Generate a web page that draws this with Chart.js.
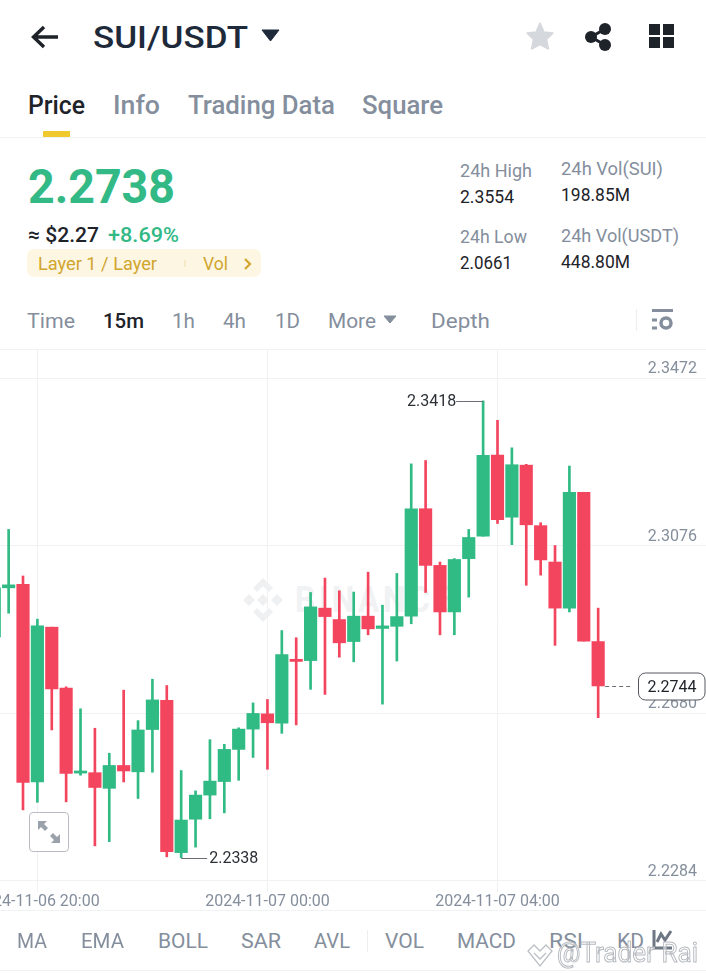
<!DOCTYPE html>
<html>
<head>
<meta charset="utf-8">
<title>SUI/USDT</title>
<script src="https://cdn.jsdelivr.net/npm/chart.js@4"></script>
<style>
html, body { margin: 0; padding: 0; background: #fff; }
body { position: relative; width: 706px; height: 973px; overflow: hidden; font-family: Roboto, "Noto Sans", sans-serif; }
.t { position: absolute; white-space: nowrap; line-height: 1; transform-origin: left center; transform: translateY(-50%); color: #848e9c; font-size: 21px; }
.d { color: #1e2329; }
.hr { position: absolute; left: 0; width: 706px; height: 1px; background: #f1f2f3; }
.vr { position: absolute; width: 1px; background: #eceef0; }
svg { position: absolute; overflow: visible; }
canvas { position: absolute; left: 0; top: 349px; }
#chip { position: absolute; left: 27px; top: 249px; width: 234px; height: 28px; background: #fdf6e3; border-radius: 7px; }
#expand { position: absolute; left: 29px; top: 812px; width: 38px; height: 38px; background: #fff; border: 1px solid #b9bdc3; border-radius: 4px; }
</style>
</head>
<body>

<!-- header -->
<svg style="left:0;top:0" width="706" height="140">
  <path d="M34 37H58M44 27L33.5 37L44 47" fill="none" stroke="#1e2329" stroke-width="3.4"/>
  <path d="M262 30H279L270.5 41Z" fill="#1e2a3a" stroke="#1e2a3a" stroke-width="1" stroke-linejoin="round"/>
  <path d="M540 23L544 32L553 33L546.5 39.500L548.500 49L540 44.500L531.500 49L533.500 39.500L527 33L536 32Z" fill="#d5d9de" stroke="#d5d9de" stroke-width="1.500" stroke-linejoin="round"/>
  <path d="M605 29L591 37L605 45" fill="none" stroke="#1e2329" stroke-width="3"/>
  <circle cx="591" cy="37" r="6" fill="#1e2329"/><circle cx="605" cy="29" r="6" fill="#1e2329"/><circle cx="605" cy="45" r="6" fill="#1e2329"/>
  <path d="M649 24h11v11h-11zM663 24h11v11h-11zM649 37h11v11h-11zM663 37h11v11h-11z" fill="#1e2329"/>
  <rect x="43" y="131" width="27" height="6" fill="#f0c92f"/>
</svg>
<span class="t" data-w="155" style="left:93px;top:37px;font-size:32px;font-weight:500;color:#1e2a3a">SUI/USDT</span>
<span class="t d" data-w="57" style="left:28px;top:105px;font-size:25px;font-weight:500">Price</span>
<span class="t" data-w="47" style="left:113px;top:105px;font-size:25px;font-weight:500">Info</span>
<span class="t" data-w="147" style="left:188px;top:105px;font-size:25px;font-weight:500">Trading Data</span>
<span class="t" data-w="81" style="left:362px;top:105px;font-size:25px;font-weight:500">Square</span>
<div class="hr" style="top:137px"></div>

<!-- price block -->
<span class="t" data-w="147" style="left:28px;top:186px;font-size:49px;font-weight:700;color:#32b986">2.2738</span>
<span class="t d" data-w="71" style="left:28px;top:235px;font-weight:500">≈ $2.27</span>
<span class="t" data-w="71" style="left:108px;top:235px;font-size:20px;font-weight:500;color:#32b986">+8.69%</span>
<div id="chip"></div>
<span class="t" data-w="119" style="left:38px;top:264px;font-size:18px;color:#d1a52e">Layer 1 / Layer</span>
<span class="t" data-w="25" style="left:203px;top:264px;font-size:18px;color:#d1a52e">Vol</span>
<svg style="left:0;top:0" width="300" height="290">
  <path d="M245 259L250 264L245 269" fill="none" stroke="#d1a52e" stroke-width="2.200"/>
  <path d="M185 260V267" stroke="#ecdcae" stroke-width="1"/>
</svg>
<span class="t" data-w="72" style="left:460px;top:171px;font-size:18px">24h High</span>
<span class="t d" data-w="54" style="left:460px;top:197px;font-size:18px">2.3554</span>
<span class="t" data-w="67" style="left:460px;top:237px;font-size:18px">24h Low</span>
<span class="t d" data-w="52" style="left:460px;top:263px;font-size:18px">2.0661</span>
<span class="t" data-w="102" style="left:561px;top:169px;font-size:18px">24h Vol(SUI)</span>
<span class="t d" data-w="69" style="left:561px;top:195px;font-size:18px">198.85M</span>
<span class="t" data-w="118" style="left:561px;top:236px;font-size:18px">24h Vol(USDT)</span>
<span class="t d" data-w="69" style="left:561px;top:262px;font-size:18px">448.80M</span>

<!-- interval bar -->
<span class="t" data-w="48" style="left:27px;top:321px">Time</span>
<span class="t d" data-w="41" style="left:103px;top:321px;font-weight:500">15m</span>
<span class="t" data-w="23" style="left:172px;top:321px">1h</span>
<span class="t" data-w="23" style="left:223px;top:321px">4h</span>
<span class="t" data-w="25" style="left:275px;top:321px">1D</span>
<span class="t" data-w="48" style="left:328px;top:321px">More</span>
<span class="t" data-w="59" style="left:431px;top:321px">Depth</span>
<div class="vr" style="left:636px;top:309px;height:22px"></div>
<svg style="left:0;top:290px" width="706" height="50">
  <path d="M384 26H396L390 33Z" fill="#848e9c" stroke="#848e9c" stroke-linejoin="round"/>
  <path d="M652 20.500H673M652 30H657M652 38H657" stroke="#848e9c" stroke-width="3" fill="none"/>
  <circle cx="666" cy="33" r="5" fill="none" stroke="#848e9c" stroke-width="3.500"/>
</svg>
<div class="hr" style="top:349px"></div>

<!-- watermark behind the candles -->
<svg style="left:241px;top:578px" width="44" height="44">
  <path d="M22 0L32 10L28 14L22 8L16 14L12 10ZM8 16L14 22L8 28L2 22ZM36 16L42 22L36 28L30 22ZM22 16L28 22L22 28L16 22ZM12 34L16 30L22 36L28 30L32 34L22 44Z" fill="#eff0f2"/>
</svg>
<span class="t" data-w="160" style="left:295px;top:600px;font-size:36px;font-weight:700;color:#f1f2f4;letter-spacing:4px">BINANCE</span>

<canvas id="kline" width="706" height="563"></canvas>

<div id="expand">
  <svg style="left:0;top:0" width="38" height="38">
    <path d="M8 8H17L14 11L18 15L15 18L11 14L8 17ZM30 30H21L24 27L20 23L23 20L27 24L30 21Z" fill="#9aa1ab"/>
  </svg>
</div>

<!-- indicator bar -->
<div class="hr" style="top:910px"></div>
<span class="t" data-w="30" style="left:17px;top:941px">MA</span>
<span class="t" data-w="43" style="left:81px;top:941px">EMA</span>
<span class="t" data-w="50" style="left:158px;top:941px">BOLL</span>
<span class="t" data-w="40" style="left:241px;top:941px">SAR</span>
<span class="t" data-w="36" style="left:314px;top:941px">AVL</span>
<div class="vr" style="left:367px;top:930px;height:22px"></div>
<span class="t" data-w="39" style="left:385px;top:941px">VOL</span>
<span class="t" data-w="59" style="left:457px;top:941px">MACD</span>
<span class="t" data-w="34" style="left:549px;top:941px">RSI</span>
<span class="t" data-w="27" style="left:617px;top:941px">KD</span>
<svg style="left:0;top:920px" width="706" height="50">
  <path d="M654 10V28H672M657 22L661 14L665 20L671 11" fill="none" stroke="#6f7784" stroke-width="3"/>
</svg>
<div class="hr" style="top:970px"></div>

<!-- uploader mark -->
<svg style="left:528px;top:942px" width="28" height="26">
  <path d="M0 9L6 3L12 9L18 3L24 9L12 24ZM6 11L12 17L18 11" fill="none" stroke="#bcc0c6" stroke-width="1.300"/>
</svg>
<span class="t" data-w="141" style="left:557px;top:953px;font-size:28px;color:rgba(255,255,255,.55);-webkit-text-stroke:1px #b6babf">@Trader Rai</span>

<script>
const categories = [
    '2024-11-06 19:15', '2024-11-06 19:30', '2024-11-06 19:45', '2024-11-06 20:00', '2024-11-06 20:15',
    '2024-11-06 20:30', '2024-11-06 20:45', '2024-11-06 21:00', '2024-11-06 21:15', '2024-11-06 21:30',
    '2024-11-06 21:45', '2024-11-06 22:00', '2024-11-06 22:15', '2024-11-06 22:30', '2024-11-06 22:45',
    '2024-11-06 23:00', '2024-11-06 23:15', '2024-11-06 23:30', '2024-11-06 23:45', '2024-11-07 00:00',
    '2024-11-07 00:15', '2024-11-07 00:30', '2024-11-07 00:45', '2024-11-07 01:00', '2024-11-07 01:15',
    '2024-11-07 01:30', '2024-11-07 01:45', '2024-11-07 02:00', '2024-11-07 02:15', '2024-11-07 02:30',
    '2024-11-07 02:45', '2024-11-07 03:00', '2024-11-07 03:15', '2024-11-07 03:30', '2024-11-07 03:45',
    '2024-11-07 04:00', '2024-11-07 04:15', '2024-11-07 04:30', '2024-11-07 04:45', '2024-11-07 05:00',
    '2024-11-07 05:15', '2024-11-07 05:30', '2024-11-07 05:45'
];
const opens = [
    2.2860, 2.2976, 2.2984, 2.2517, 2.2883, 2.2739, 2.2538, 2.2539, 2.2502, 2.2556,
    2.2541, 2.2641, 2.2710, 2.2350, 2.2429, 2.2486, 2.2518, 2.2594, 2.2642, 2.2678,
    2.2656, 2.2807, 2.2804, 2.2928, 2.2901, 2.2849, 2.2909, 2.2880, 2.2885, 2.2909,
    2.3163, 2.3029, 2.2919, 2.3045, 2.3098, 2.3290, 2.3143, 2.3266, 2.3123, 2.3037,
    2.2928, 2.3202, 2.2849
];
const highs = [
    2.2985, 2.3114, 2.3004, 2.2902, 2.2883, 2.2742, 2.2690, 2.2644, 2.2585, 2.2734,
    2.2662, 2.2760, 2.2745, 2.2544, 2.2496, 2.2617, 2.2606, 2.2645, 2.2704, 2.2712,
    2.2875, 2.2858, 2.2965, 2.2999, 2.2969, 2.2966, 2.3013, 2.2935, 2.3010, 2.3269,
    2.3277, 2.3037, 2.3045, 2.3114, 2.3418, 2.3372, 2.3307, 2.3268, 2.3130, 2.3076,
    2.3264, 2.3202, 2.2928
];
const lows = [
    2.2850, 2.2916, 2.2451, 2.2469, 2.2640, 2.2470, 2.2533, 2.2366, 2.2376, 2.2517,
    2.2478, 2.2540, 2.2340, 2.2338, 2.2363, 2.2430, 2.2444, 2.2521, 2.2575, 2.2547,
    2.2632, 2.2652, 2.2736, 2.2724, 2.2812, 2.2801, 2.2865, 2.2701, 2.2803, 2.2891,
    2.2965, 2.2865, 2.2865, 2.2954, 2.3098, 2.3128, 2.3078, 2.2982, 2.3006, 2.2840,
    2.2919, 2.2850, 2.2669
];
const closes = [
    2.2976, 2.2983, 2.2516, 2.2886, 2.2737, 2.2537, 2.2543, 2.2504, 2.2556, 2.2543,
    2.2640, 2.2711, 2.2352, 2.2427, 2.2486, 2.2519, 2.2594, 2.2642, 2.2679, 2.2657,
    2.2818, 2.2802, 2.2931, 2.2908, 2.2846, 2.2909, 2.2879, 2.2886, 2.2908, 2.3163,
    2.3029, 2.2919, 2.3043, 2.3095, 2.3289, 2.3137, 2.3267, 2.3125, 2.3042, 2.2928,
    2.3202, 2.2850, 2.2744
];
const yTicks = [2.3472, 2.3076, 2.2680, 2.2284];
const xTicks = [3, 19, 35]; // indexes into categories that get a time label
const highMark = { index: 34, value: 2.3418 };
const lowMark = { index: 13, value: 2.2338 };
const lastPrice = 2.2744;

const UP = '#30ba84';
const DOWN = '#f4455f';
const GRID = '#f0f1f3';
const colors = closes.map((c, i) => c >= opens[i] ? UP : DOWN);

function fitText() {
    document.querySelectorAll('.t[data-w]').forEach(el => {
        const k = Number(el.dataset.w) / el.getBoundingClientRect().width;
        el.style.transform = `translateY(-50%) scaleX(${k})`;
    });
}

// tick labels must not shrink the plot, it fills the whole canvas width
function noPadding(scale) {
    scale.paddingLeft = 0;
    scale.paddingRight = 0;
    scale.paddingTop = 0;
    scale.paddingBottom = 0;
}

// labels for the extreme candles and the last price box
const marksPlugin = {
    id: 'marks',
    afterDraw(chart) {
        const ctx = chart.ctx;
        const x = chart.scales.x;
        const y = chart.scales.y;
        ctx.save();
        ctx.font = '16px Roboto';
        ctx.textBaseline = 'middle';
        ctx.strokeStyle = '#6b6f75';
        ctx.lineWidth = 1;

        const hx = x.getPixelForValue(highMark.index);
        const hy = Math.round(y.getPixelForValue(highMark.value)) + 0.5;
        ctx.beginPath();
        ctx.moveTo(hx, hy);
        ctx.lineTo(hx - 27, hy);
        ctx.stroke();
        ctx.fillStyle = '#2b2f36';
        ctx.textAlign = 'right';
        ctx.fillText(highMark.value.toFixed(4), hx - 27, hy);

        const lx = x.getPixelForValue(lowMark.index);
        const ly = Math.round(y.getPixelForValue(lowMark.value)) + 0.5;
        ctx.beginPath();
        ctx.moveTo(lx, ly);
        ctx.lineTo(lx + 26, ly);
        ctx.stroke();
        ctx.textAlign = 'left';
        ctx.fillText(lowMark.value.toFixed(4), lx + 28, ly);

        const py = Math.round(y.getPixelForValue(lastPrice)) + 0.5;
        const px = x.getPixelForValue(opens.length - 1) + 7;
        ctx.setLineDash([4, 3]);
        ctx.beginPath();
        ctx.moveTo(px, py);
        ctx.lineTo(px + 27, py);
        ctx.stroke();
        ctx.setLineDash([]);
        ctx.fillStyle = '#fff';
        ctx.strokeStyle = '#54585e';
        ctx.beginPath();
        ctx.roundRect(638.5, py - 13.5, 66.5, 27, 7);
        ctx.fill();
        ctx.stroke();
        ctx.fillStyle = '#1e2329';
        ctx.textAlign = 'center';
        ctx.fillText(lastPrice.toFixed(4), 672, py + 1);
        ctx.restore();
    }
};

function initializeChart() {
    const ctx = document.getElementById('kline').getContext('2d');
    new Chart(ctx, {
        type: 'bar',
        data: {
            datasets: [
                {
                    label: 'wick',
                    data: highs.map((h, i) => ({ x: i, y: [lows[i], h] })),
                    backgroundColor: colors,
                    barThickness: 2,
                    grouped: false,
                    order: 2
                },
                {
                    label: 'body',
                    data: opens.map((o, i) => ({ x: i, y: [o, closes[i]] })),
                    backgroundColor: colors,
                    barThickness: 12.5,
                    grouped: false,
                    order: 1
                }
            ]
        },
        options: {
            responsive: false,
            animation: false,
            events: [],
            layout: { padding: 0 },
            plugins: { legend: { display: false }, tooltip: { enabled: false } },
            scales: {
                x: {
                    type: 'linear',
                    offset: false,
                    min: 0.4,
                    max: 49.5,
                    afterBuildTicks: scale => { scale.ticks = xTicks.map(v => ({ value: v })); },
                    afterFit: scale => { scale.height = 20; noPadding(scale); },
                    border: { display: false },
                    grid: { offset: false, color: GRID, drawTicks: false },
                    ticks: {
                        autoSkip: false,
                        maxRotation: 0,
                        padding: 0,
                        color: '#848e9c',
                        font: { family: 'Roboto', size: 16 },
                        callback: value => categories[value]
                    }
                },
                y: {
                    position: 'right',
                    min: 2.22569,
                    max: 2.35406,
                    afterBuildTicks: scale => { scale.ticks = yTicks.map(v => ({ value: v })); },
                    afterFit: scale => { scale.width = 0; noPadding(scale); },
                    border: { display: false },
                    grid: { color: GRID, drawTicks: false },
                    ticks: {
                        mirror: true,
                        padding: -9,
                        labelOffset: -9,
                        color: '#848e9c',
                        font: { family: 'Roboto', size: 16 },
                        callback: value => value.toFixed(4)
                    }
                }
            }
        },
        plugins: [marksPlugin]
    });
}

window.addEventListener('load', () => {
    fitText();
    initializeChart();
});
</script>
</body>
</html>
